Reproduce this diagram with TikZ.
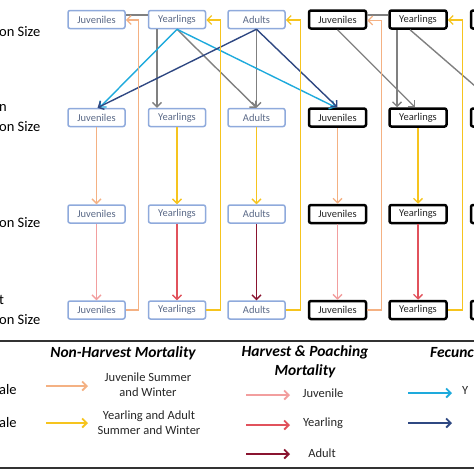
\documentclass[tikz,border=0pt]{standalone}
\usepackage{fontspec}
\setmainfont{Carlito}
\usepackage{xcolor}
\usepackage{tikz}
\usetikzlibrary{arrows.meta}
\definecolor{peach}{RGB}{244,177,131}
\definecolor{gold}{RGB}{246,196,30}
\definecolor{rose}{RGB}{242,158,158}
\definecolor{salmon}{RGB}{225,82,92}
\definecolor{wine}{RGB}{138,20,48}
\definecolor{skyblue}{RGB}{30,170,220}
\definecolor{navy}{RGB}{47,72,130}
\definecolor{stepgray}{RGB}{128,128,128}
\definecolor{boxblue}{RGB}{143,170,220}
\definecolor{boxtext}{RGB}{90,105,135}

\tikzset{
    fbox/.style={draw=boxblue, line width=1.5pt, rounded corners=2pt, fill=white, text=boxtext,
        minimum width=57pt, minimum height=18pt, inner sep=0pt, font=\fontsize{10.5}{12}\selectfont},
    mbox/.style={fbox, draw=black, line width=2.5pt, text=black!85},
    flow/.style={-{Straight Barb[length=4.5pt,width=9pt]}, line width=1.4pt},
    legflow/.style={flow, line width=1.8pt},
    rowlabel/.style={anchor=west, inner sep=0pt, font=\fontsize{14.5}{16}\selectfont},
    legtitle/.style={align=center, inner sep=0pt, font=\fontsize{15.5}{19}\selectfont\bfseries\itshape},
    legtext/.style={align=center, inner sep=0pt, font=\fontsize{12.5}{15}\selectfont, text=black!85}
}

\begin{document}
\begin{tikzpicture}[x=1pt,y=-1pt]
    \useasboundingbox (0,0) rectangle (474,474);

    % row labels
    \node[rowlabel] (lab1) at (-1,32) {on Size};
    \node[rowlabel] (lab2a) at (-1,108) {n};
    \node[rowlabel] (lab2b) at (-1,127) {on Size};
    \node[rowlabel] (lab3) at (-1,223) {on Size};
    \node[rowlabel] (lab4a) at (-1,300) {t};
    \node[rowlabel] (lab4b) at (-1,320) {on Size};

    % female boxes
    \node[fbox] (fj1) at (96.5,19.5) {Juveniles};
    \node[fbox] (fy1) at (177,19.5) {Yearlings};
    \node[fbox] (fa1) at (256.5,19.5) {Adults};
    \node[fbox] (fj2) at (96.5,117.5) {Juveniles};
    \node[fbox] (fy2) at (177,117.5) {Yearlings};
    \node[fbox] (fa2) at (256.5,117.5) {Adults};
    \node[fbox] (fj3) at (96.5,214) {Juveniles};
    \node[fbox] (fy3) at (177,214) {Yearlings};
    \node[fbox] (fa3) at (256.5,214) {Adults};
    \node[fbox] (fj4) at (96.5,310) {Juveniles};
    \node[fbox] (fy4) at (177,310) {Yearlings};
    \node[fbox] (fa4) at (256.5,310) {Adults};

    % male boxes
    \node[mbox] (mj1) at (337.5,19.5) {Juveniles};
    \node[mbox] (my1) at (418,19.5) {Yearlings};
    \node[mbox] (ma1) at (499.5,19.5) {};
    \node[mbox] (mj2) at (337.5,117.5) {Juveniles};
    \node[mbox] (my2) at (418,117.5) {Yearlings};
    \node[mbox] (ma2) at (499.5,117.5) {};
    \node[mbox] (mj3) at (337.5,214) {Juveniles};
    \node[mbox] (my3) at (418,214) {Yearlings};
    \node[mbox] (ma3) at (499.5,214) {};
    \node[mbox] (mj4) at (337.5,310) {Juveniles};
    \node[mbox] (my4) at (418,310) {Yearlings};
    \node[mbox] (ma4) at (499.5,310) {};

    % ageing
    \draw[stepgray, line width=1.4pt] ([yshift=4.5pt]fj1.east) -- ([yshift=4.5pt]fy1.west);
    \draw[flow, stepgray] ([xshift=-20pt]fy1.south) -- ([xshift=-20pt]fy2.north);
    \draw[flow, stepgray] (fy1.south) -- (fa2.north);
    \draw[flow, stepgray] (fa1.south) -- (fa2.north);
    \draw[stepgray, line width=1.4pt] ([yshift=4.5pt]mj1.east) -- ([yshift=4.5pt]my1.west);
    \draw[flow, stepgray] ([xshift=-21pt]my1.south) -- ([xshift=-21pt]my2.north);
    \draw[flow, stepgray] (mj1.south) -- ([xshift=-3pt]my2.north);
    \draw[flow, stepgray] ([xshift=-8pt]my1.south) -- (ma2.north);

    % fecundity
    \draw[flow, skyblue] (fy1.south) -- ([xshift=3pt]fj2.north);
    \draw[flow, skyblue] (fy1.south) -- ([xshift=-2pt]mj2.north);
    \draw[flow, navy] (fa1.south) -- ([xshift=1pt]fj2.north);
    \draw[flow, navy] (fa1.south) -- (mj2.north);

    % non-harvest mortality
    \draw[flow, peach] (fj2.south) -- (fj3.north);
    \draw[flow, gold] (fy2.south) -- (fy3.north);
    \draw[flow, gold] (fa2.south) -- (fa3.north);
    \draw[flow, peach] (mj2.south) -- (mj3.north);
    \draw[flow, gold] (my2.south) -- (my3.north);

    % harvest and poaching
    \draw[flow, rose] (fj3.south) -- (fj4.north);
    \draw[flow, salmon] (fy3.south) -- (fy4.north);
    \draw[flow, wine] (fa3.south) -- (fa4.north);
    \draw[flow, rose] (mj3.south) -- (mj4.north);
    \draw[flow, salmon] (my3.south) -- (my4.north);

    % back to the top
    \draw[flow, peach] (fj4.east) -- ++(13,0) |- ([yshift=-0.5pt]fj1.east);
    \draw[flow, gold] (fy4.east) -- ++(14,0) |- ([yshift=-0.5pt]fy1.east);
    \draw[flow, gold] (fa4.east) -- ++(15,0) |- ([yshift=-0.5pt]fa1.east);
    \draw[flow, peach] (mj4.east) -- ++(14,0) |- ([yshift=-1pt]mj1.east);
    \draw[flow, gold] (my4.east) -- ++(15,0) |- ([yshift=-0.5pt]my1.east);

    % legend
    \draw[black!80, line width=1.8pt] (-5,341) rectangle (480,468);
    \node[rowlabel] (sexf) at (-1,390) {ale};
    \node[rowlabel] (sexm) at (-1,423) {ale};

    \node[legtitle] (nhm) at (123,353) {Non-Harvest Mortality};
    \coordinate (nj0) at (46,386);
    \coordinate (nj1) at (88,386);
    \draw[legflow, peach] (nj0) -- (nj1);
    \node[legtext] (njt) at (148,384.5) {Juvenile Summer\\and Winter};
    \coordinate (na0) at (46,423);
    \coordinate (na1) at (88,423);
    \draw[legflow, gold] (na0) -- (na1);
    \node[legtext] (nat) at (149,422.5) {Yearling and Adult\\Summer and Winter};

    \node[legtitle] (hpm) at (305,362) {Harvest \& Poaching\\Mortality};
    \coordinate (hj0) at (246,395);
    \coordinate (hj1) at (290,395);
    \draw[legflow, rose] (hj0) -- (hj1);
    \node[legtext] (hjt) at (323,393) {Juvenile};
    \coordinate (hy0) at (246,425);
    \coordinate (hy1) at (290,425);
    \draw[legflow, salmon] (hy0) -- (hy1);
    \node[legtext] (hyt) at (323,423) {Yearling};
    \coordinate (ha0) at (246,454);
    \coordinate (ha1) at (290,454);
    \draw[legflow, wine] (ha0) -- (ha1);
    \node[legtext] (hat) at (322,453) {Adult};

    \node[legtitle, anchor=west] (fec) at (430,353) {Fecunc};
    \coordinate (fy0) at (408,393);
    \coordinate (fyy) at (452,393);
    \draw[legflow, skyblue] (fy0) -- (fyy);
    \node[legtext, anchor=west] (fyt) at (462,390) {Y};
    \coordinate (fa0) at (408,423);
    \coordinate (faa) at (452,423);
    \draw[legflow, navy] (fa0) -- (faa);
\end{tikzpicture}
\end{document}
